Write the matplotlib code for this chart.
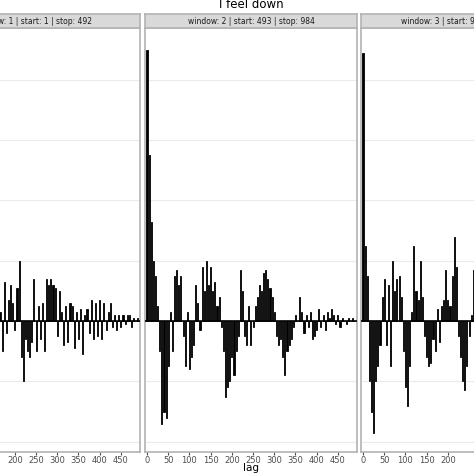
import numpy as np
from matplotlib import pyplot as plt

# valores de autocorrelacion (un valor cada 5 lags)
acf_w1 = [1.0, 0.4, 0.2, 0.1, -0.05, 0.08, -0.1, 0.05, 0.1, -0.08,
          0.05, -0.06, 0.1, 0.03, -0.1, 0.06, 0.12, -0.05, 0.04, -0.08,
          0.06, 0.1, -0.05, 0.03, -0.09, 0.08, 0.04, -0.06, 0.1, 0.05,
          -0.08, 0.06, 0.1, 0.03, -0.1, 0.13, -0.04, 0.07, 0.12, 0.06,
          -0.03, 0.11, 0.2, -0.12, -0.2, -0.06, -0.1, -0.12, -0.07, 0.14,
          -0.1, 0.05, -0.06, 0.06, -0.1, 0.14, 0.12, 0.14, 0.12, 0.11,
          -0.05, 0.1, 0.03, -0.08, 0.05, -0.07, 0.06, 0.05, -0.09, 0.03,
          -0.06, 0.04, -0.11, 0.02, 0.04, -0.04, 0.07, -0.06, 0.06, -0.05,
          0.07, -0.06, 0.06, -0.03, 0.03, 0.06, -0.02, 0.02, -0.03, 0.02,
          -0.02, 0.02, -0.01, 0.02, 0.02, -0.02, 0.01, 0.0, 0.01]
acf_w2 = [0.9, 0.55, 0.33, 0.2, 0.15, 0.05, -0.1, -0.34, -0.3, -0.32,
          -0.15, 0.03, -0.1, 0.15, 0.17, 0.12, 0.15, -0.05, -0.15, 0.03,
          -0.16, -0.12, -0.08, 0.12, 0.06, -0.03, 0.18, 0.1, 0.2, 0.12,
          0.18, 0.1, 0.13, 0.05, 0.08, -0.02, -0.1, -0.25, -0.22, -0.2,
          -0.12, -0.18, -0.1, -0.05, 0.17, 0.1, -0.05, -0.08, 0.05, -0.08,
          -0.02, 0.05, 0.08, 0.12, 0.1, 0.16, 0.17, 0.14, 0.11, 0.08,
          0.03, -0.05, -0.08, -0.06, -0.12, -0.18, -0.1, -0.08, -0.06, -0.02,
          0.02, 0.0, 0.08, 0.03, -0.04, 0.02, -0.02, 0.03, -0.06, -0.05,
          -0.03, 0.04, -0.02, 0.02, -0.03, 0.03, 0.01, 0.04, 0.02, -0.01,
          0.02, -0.02, 0.01, 0.0, -0.01, 0.01, 0.0, 0.01, 0.0]
acf_w3 = [0.89, 0.25, 0.15, -0.2, -0.3, -0.37, -0.2, -0.15, -0.08, 0.08,
          0.14, -0.08, 0.12, -0.15, 0.2, 0.1, 0.14, 0.15, 0.08, -0.1,
          -0.22, -0.28, -0.15, 0.03, 0.25, 0.1, 0.07, 0.2, 0.08, -0.05,
          -0.12, -0.15, -0.14, -0.06, -0.1, 0.04, -0.07, 0.05, 0.07, 0.17,
          0.07, 0.05, 0.15, 0.28, 0.18, -0.05, -0.12, -0.2, -0.23, -0.15,
          -0.05, 0.02, 0.17, 0.12, 0.08, -0.05, 0.1, -0.08, 0.06, 0.03,
          -0.07, 0.05, -0.04, 0.06, -0.03, 0.04, -0.05, 0.03, 0.02, -0.03,
          0.04, -0.02, 0.02, -0.01, 0.02, -0.01, 0.01, 0.0, 0.01]
ventanas = ['window: 1 | start: 1 | stop: 492',
            'window: 2 | start: 493 | stop: 984',
            'window: 3 | start: 985 | stop: 1476']
series = [acf_w1, acf_w2, acf_w3]
xticks = [0, 50, 100, 150, 200, 250, 300, 350, 400, 450]

W = 474.0
fig = plt.figure(figsize=(4.74, 4.74), dpi=100)
izquierdas = [-72, 145, 361]  # en pixeles, paneles 1 y 3 quedan recortados
for izq, vals, titulo in zip(izquierdas, series, ventanas):
    ax = fig.add_axes([izq / W, 22 / W, 212 / W, 424 / W])
    lags = np.arange(0, 5 * len(vals), 5)
    ax.bar(lags, vals, width=2.6, color='black', edgecolor='black', lw=0.6, zorder=3)
    ax.axhline(0, color='black', lw=1.2, zorder=3)
    ax.set_xlim(-4.7, 495)
    ax.set_ylim(-0.434, 0.972)
    ax.set_yticks([-0.4, -0.2, 0, 0.2, 0.4, 0.6, 0.8])
    ax.set_yticklabels([])
    ax.tick_params(axis='y', length=0)
    ax.grid(axis='y', color='#ebebeb', lw=0.8, zorder=0)
    # solo las etiquetas que caen dentro de la figura
    vis = [t for t in xticks if 0 <= izq + 2 + t * 0.424 - 8 and izq + 2 + t * 0.424 + 8 <= W]
    ax.set_xticks(vis)
    ax.tick_params(axis='x', labelsize=6, colors='#4d4d4d', length=2, pad=1)
    for s in ax.spines.values():
        s.set_color('#b3b3b3')
        s.set_linewidth(1.2)
    # tira del facet
    sa = fig.add_axes([izq / W, 446 / W, 212 / W, 14 / W])
    sa.set_facecolor('#d9d9d9')
    sa.set_xticks([])
    sa.set_yticks([])
    for s in sa.spines.values():
        s.set_color('#b3b3b3')
        s.set_linewidth(1.2)
    sa.text(0.5, 0.5, titulo, ha='center', va='center', fontsize=5.5, color='#1a1a1a',
            transform=sa.transAxes)

fig.text(251 / W, 1 - 5 / W, 'I feel down', ha='center', va='center', fontsize=8.5)
fig.text(251 / W, 1 - 468 / W, 'lag', ha='center', va='center', fontsize=7.5)
fig.savefig('out.png', dpi=100)
